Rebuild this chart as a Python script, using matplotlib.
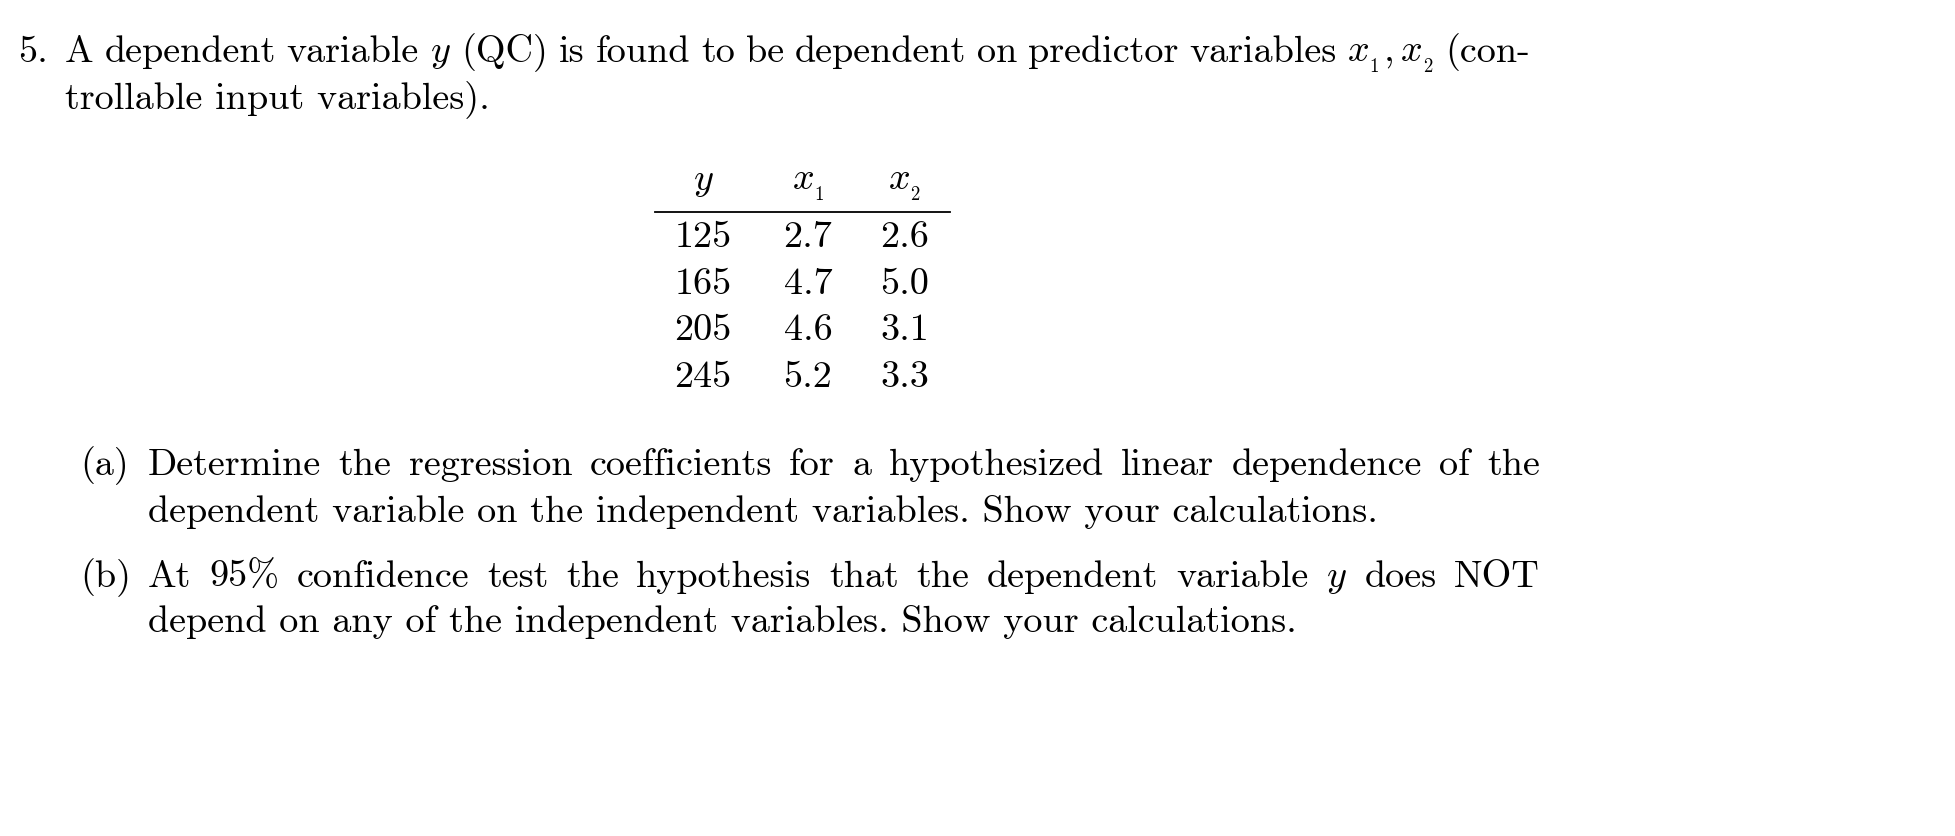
import matplotlib
matplotlib.use("Agg")
import matplotlib.pyplot as plt

plt.rcParams['font.family'] = ['cmr10', 'DejaVu Serif']
plt.rcParams['mathtext.fontset'] = 'cm'
plt.rcParams['axes.formatter.use_mathtext'] = True

FS = 27.5

# table data
col_heads = ['$y$', '$x_{_1}$', '$x_{_2}$']
y_vals = ['125', '165', '205', '245']
x1_vals = ['2.7', '4.7', '4.6', '5.2']
x2_vals = ['2.6', '5.0', '3.1', '3.3']

# paragraph lines: (label, label_x, text_x, baseline, text, justify_to)
lines = [
    ('5.', 18, 65, 62, r'A dependent variable $y$ (QC) is found to be dependent on predictor variables $x_{_1}, x_{_2}$ (con-', 1530),
    ('', 18, 65, 108, 'trollable input variables).', None),
    ('(a)', 80, 148, 475, 'Determine the regression coefficients for a hypothesized linear dependence of the', 1540),
    ('', 80, 148, 522, 'dependent variable on the independent variables. Show your calculations.', None),
    ('(b)', 80, 148, 587, r'At 95% confidence test the hypothesis that the dependent variable $y$ does NOT', 1540),
    ('', 80, 148, 632, 'depend on any of the independent variables. Show your calculations.', None),
]

fig = plt.figure(figsize=(19.56, 8.36), dpi=100)
ax = fig.add_axes([0, 0, 1, 1])
ax.set_xlim(0, 1956)
ax.set_ylim(836, 0)
ax.axis('off')
fig.canvas.draw()
renderer = fig.canvas.get_renderer()


def split_words(s):
    # keep math segments with their commas intact
    words, cur, in_math = [], '', False
    for ch in s:
        if ch == '$':
            in_math = not in_math
        if ch == ' ' and not in_math:
            if cur:
                words.append(cur)
            cur = ''
        else:
            cur += ch
    if cur:
        words.append(cur)
    return words


def width_px(t):
    return t.get_window_extent(renderer).width


for label, lx, tx, base, text, right in lines:
    if label:
        ax.text(lx, base, label, fontsize=FS, va='baseline', ha='left')
    if right is None:
        ax.text(tx, base, text, fontsize=FS, va='baseline', ha='left')
        continue
    words = split_words(text)
    arts = [ax.text(0, base, w, fontsize=FS, va='baseline', ha='left') for w in words]
    widths = [width_px(a) for a in arts]
    gap = (right - tx - sum(widths)) / (len(words) - 1)
    x = tx
    for a, w in zip(arts, widths):
        a.set_x(x)
        x += w + gap

# table
col_x = [703, 808, 905]
for cx, head in zip(col_x, col_heads):
    ax.text(cx, 190, head, fontsize=FS, ha='center', va='baseline')
ax.plot([655, 950], [212, 212], color='black', lw=1.3)
row_y = [247, 294, 340, 387]
for i, yb in enumerate(row_y):
    ax.text(col_x[0], yb, y_vals[i], fontsize=FS, ha='center', va='baseline')
    ax.text(col_x[1], yb, x1_vals[i], fontsize=FS, ha='center', va='baseline')
    ax.text(col_x[2], yb, x2_vals[i], fontsize=FS, ha='center', va='baseline')

fig.savefig('out.png', dpi=100, facecolor='white')
